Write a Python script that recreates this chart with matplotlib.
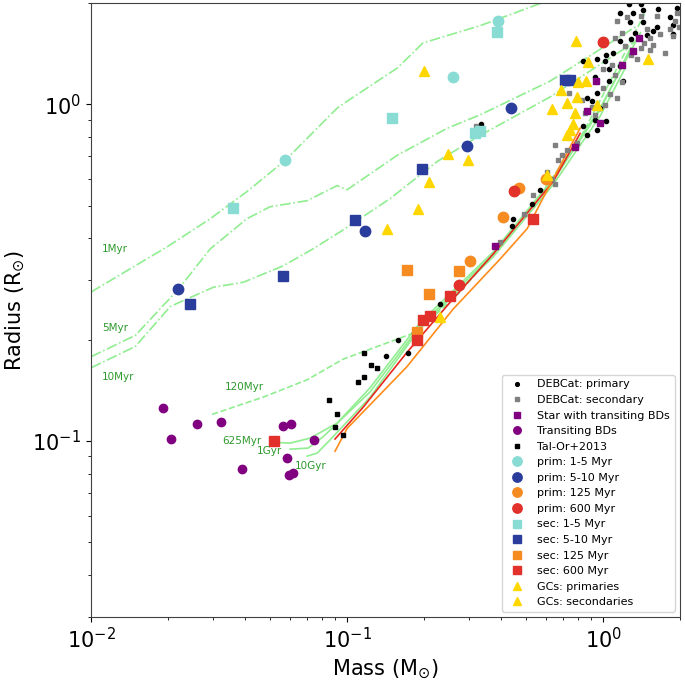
import matplotlib
matplotlib.use("Agg")
import matplotlib.pyplot as plt

# isochrones (mass [Msun], radius [Rsun])
iso_1myr_m = [0.01, 0.0198, 0.0292, 0.0406, 0.0573, 0.0914, 0.1, 0.157, 0.198, 0.331, 0.61]
iso_1myr_r = [0.277, 0.377, 0.457, 0.550, 0.681, 0.973, 1.02, 1.28, 1.52, 1.71, 2.03]
iso_5myr_m = [0.01, 0.0149, 0.0219, 0.0292, 0.0406, 0.050, 0.0698, 0.0914, 0.1, 0.157, 0.246, 0.331, 0.62, 1.36]
iso_5myr_r = [0.178, 0.206, 0.282, 0.372, 0.457, 0.496, 0.517, 0.573, 0.557, 0.705, 0.848, 0.93, 1.17, 1.71]
iso_10myr_m = [0.01, 0.0149, 0.0204, 0.030, 0.0393, 0.0562, 0.0736, 0.094, 0.147, 0.225, 0.331, 0.62, 1.40]
iso_10myr_r = [0.165, 0.191, 0.251, 0.286, 0.296, 0.331, 0.372, 0.418, 0.524, 0.676, 0.808, 1.05, 1.57]
iso_120myr_m = [0.0297, 0.047, 0.0698, 0.0964, 0.1875, 0.276, 0.396, 0.568, 0.813, 1.11, 1.46]
iso_120myr_r = [0.120, 0.135, 0.152, 0.175, 0.211, 0.277, 0.379, 0.538, 0.792, 1.24, 1.87]
iso_625myr_m = [0.050, 0.0599, 0.0716, 0.0914, 0.123, 0.193, 0.372, 0.638, 0.973, 1.40]
iso_625myr_r = [0.0993, 0.0986, 0.102, 0.113, 0.144, 0.225, 0.364, 0.601, 0.973, 1.63]
iso_1gyr_m = [0.0599, 0.0705, 0.0806, 0.123, 0.193, 0.372, 0.638, 0.973, 1.28]
iso_1gyr_r = [0.0946, 0.0953, 0.103, 0.140, 0.220, 0.359, 0.593, 0.96, 1.47]
iso_10gyr_m = [0.0698, 0.0764, 0.086, 0.123, 0.193, 0.372, 0.638, 0.973, 1.22]
iso_10gyr_r = [0.0902, 0.0921, 0.101, 0.135, 0.217, 0.352, 0.577, 0.921, 1.28]
red_m = [0.0897, 0.1155, 0.171, 0.259, 0.372, 0.474, 0.638, 0.813]
red_r = [0.1014, 0.126, 0.183, 0.264, 0.359, 0.448, 0.589, 0.819]
orange_m = [0.0897, 0.1, 0.171, 0.259, 0.396, 0.505, 0.638, 0.813]
orange_r = [0.0933, 0.109, 0.166, 0.246, 0.347, 0.427, 0.601, 0.848]

iso_names = ["1Myr", "5Myr", "10Myr", "120Myr", "625Myr", "1Gyr", "10Gyr"]
iso_label_m = [0.011, 0.011, 0.011, 0.0333, 0.0325, 0.0445, 0.0627]
iso_label_r = [0.372, 0.217, 0.155, 0.145, 0.100, 0.0934, 0.0842]

# DEBCat
deb_p_m = [1.26, 1.41, 1.16, 1.31, 1.64, 1.94, 1.27, 1.43, 1.62, 1.88, 1.57, 1.33, 1.48,
           1.88, 1.29, 1.16, 1.09, 1.03, 1.02, 1.05, 0.944, 0.836, 1.16, 1.20, 0.931, 1.05,
           0.944, 0.863, 0.903, 0.973, 1.03, 0.931, 0.863, 0.944, 0.836, 0.333, 1.43, 1.83,
           0.44, 0.445, 0.568, 0.526, 0.231, 0.182, 0.158, 0.173, 0.142]
deb_p_r = [1.98, 1.98, 1.86, 1.87, 1.91, 1.93, 1.75, 1.75, 1.69, 1.72, 1.65, 1.63, 1.60,
           1.62, 1.56, 1.54, 1.42, 1.40, 1.34, 1.27, 1.36, 1.34, 1.30, 1.17, 1.20, 1.17,
           1.08, 1.04, 1.02, 0.973, 0.889, 0.896, 0.808, 0.836, 0.860, 0.871, 1.90, 1.81,
           0.436, 0.457, 0.555, 0.506, 0.255, 0.209, 0.200, 0.183, 0.179]
deb_s_m = [1.13, 1.24, 1.40, 1.18, 1.48, 1.67, 1.83, 1.91, 1.97, 1.11, 1.22, 1.44, 1.57,
           1.75, 1.29, 1.35, 1.08, 1.00, 1.11, 1.18, 1.00, 1.06, 1.13, 0.903, 1.02, 0.851,
           0.931, 0.733, 0.826, 0.789, 0.721, 0.649, 0.690, 0.669, 0.63, 0.602, 1.40, 1.53,
           1.53, 1.88, 1.94, 1.62, 0.489, 0.531, 0.396, 0.649, 0.319]
deb_s_r = [1.77, 1.81, 1.83, 1.63, 1.67, 1.61, 1.67, 1.77, 1.69, 1.57, 1.49, 1.52, 1.50,
           1.42, 1.40, 1.36, 1.31, 1.27, 1.22, 1.16, 1.12, 1.07, 1.04, 0.984, 0.995, 0.940,
           0.929, 1.08, 1.03, 0.765, 0.731, 0.757, 0.706, 0.682, 0.601, 0.630, 1.47, 1.57,
           1.45, 1.59, 1.87, 1.83, 0.473, 0.539, 0.389, 0.581, 0.86]

# transiting brown dwarfs and their hosts
host_m = [1.38, 1.31, 1.19, 0.94, 0.866, 0.973, 0.778, 0.378]
host_r = [1.57, 1.44, 1.31, 1.17, 0.953, 0.878, 0.744, 0.379]
bd_m = [0.0191, 0.0205, 0.0259, 0.0322, 0.0389, 0.0562, 0.0604, 0.0583, 0.0594, 0.0615, 0.0743]
bd_r = [0.125, 0.1014, 0.1124, 0.114, 0.0825, 0.111, 0.1124, 0.089, 0.0792, 0.0802, 0.1007]

talor_m = [0.0846, 0.0917, 0.0898, 0.0962, 0.116, 0.110, 0.116, 0.124, 0.131]
talor_r = [0.132, 0.120, 0.110, 0.104, 0.155, 0.150, 0.182, 0.168, 0.165]

# young clusters: primaries
p1_m = [0.0573, 0.259, 0.389]
p1_r = [0.681, 1.20, 1.76]
p5_m = [0.0219, 0.1175, 0.294, 0.438]
p5_r = [0.282, 0.421, 0.749, 0.973]
p125_m = [0.302, 0.407, 0.47, 0.60]
p125_r = [0.342, 0.463, 0.565, 0.60]
p600_m = [0.449, 0.274, 1.0]
p600_r = [0.554, 0.290, 1.53]
# young clusters: secondaries
s1_m = [0.0359, 0.150, 0.316, 0.33, 0.385]
s1_r = [0.493, 0.908, 0.819, 0.835, 1.64]
s5_m = [0.0244, 0.0562, 0.1075, 0.196, 0.711, 0.743]
s5_r = [0.256, 0.309, 0.454, 0.644, 1.18, 1.18]
s125_m = [0.171, 0.274, 0.209, 0.1875]
s125_r = [0.321, 0.319, 0.273, 0.210]
s600_m = [0.533, 0.252, 0.198, 0.1875, 0.211, 0.0519]
s600_r = [0.457, 0.269, 0.228, 0.200, 0.235, 0.100]

# globular clusters
gcp_m = [0.785, 1.5, 0.873, 0.859, 0.798, 0.686, 0.791, 0.723, 0.948]
gcp_r = [1.54, 1.36, 1.33, 1.17, 1.16, 1.10, 1.05, 1.007, 0.993]
gcs_m = [0.2, 0.248, 0.297, 0.209, 0.189, 0.143, 0.231, 0.632, 0.778, 0.764, 0.743, 0.723, 0.604]
gcs_r = [1.25, 0.709, 0.681, 0.589, 0.49, 0.426, 0.234, 0.966, 0.94, 0.871, 0.836, 0.808, 0.618]

fig, ax = plt.subplots(figsize=(6.85, 6.82), dpi=100)
fig.subplots_adjust(left=0.133, right=0.993, top=0.996, bottom=0.095)

iso_col = "#90ee90"
ax.plot(iso_1myr_m, iso_1myr_r, "-.", color=iso_col, lw=1.2)
ax.plot(iso_5myr_m, iso_5myr_r, "-.", color=iso_col, lw=1.2)
ax.plot(iso_10myr_m, iso_10myr_r, "-.", color=iso_col, lw=1.2)
ax.plot(iso_120myr_m, iso_120myr_r, "--", color=iso_col, lw=1.2)
ax.plot(iso_625myr_m, iso_625myr_r, "-", color=iso_col, lw=1.2)
ax.plot(iso_1gyr_m, iso_1gyr_r, "-", color=iso_col, lw=1.2)
ax.plot(iso_10gyr_m, iso_10gyr_r, "-", color=iso_col, lw=1.2)
ax.plot(red_m, red_r, "-", color="#e8281e", lw=1.2)
ax.plot(orange_m, orange_r, "-", color="#ff8c1a", lw=1.2)

for name, m, r in zip(iso_names, iso_label_m, iso_label_r):
    ax.text(m, r, name, color="#2e9a2e", fontsize=7.5, va="center", ha="left")

ax.plot(deb_p_m, deb_p_r, "o", color="black", ms=3, ls="none", label="DEBCat: primary")
ax.plot(deb_s_m, deb_s_r, "s", color="gray", ms=3, ls="none", label="DEBCat: secondary")
ax.plot(host_m, host_r, "s", color="purple", ms=5, ls="none", label="Star with transiting BDs")
ax.plot(bd_m, bd_r, "o", color="purple", ms=6, ls="none", label="Transiting BDs")
ax.plot(talor_m, talor_r, "s", color="black", ms=3, ls="none", label="Tal-Or+2013")
ax.plot(p1_m, p1_r, "o", color="#88dcd4", ms=7.5, ls="none", label="prim: 1-5 Myr")
ax.plot(p5_m, p5_r, "o", color="#2b3d9c", ms=7.5, ls="none", label="prim: 5-10 Myr")
ax.plot(p125_m, p125_r, "o", color="#f68b22", ms=7.5, ls="none", label="prim: 125 Myr")
ax.plot(p600_m, p600_r, "o", color="#e2302a", ms=7.5, ls="none", label="prim: 600 Myr")
ax.plot(s1_m, s1_r, "s", color="#88dcd4", ms=7, ls="none", label="sec: 1-5 Myr")
ax.plot(s5_m, s5_r, "s", color="#2b3d9c", ms=7, ls="none", label="sec: 5-10 Myr")
ax.plot(s125_m, s125_r, "s", color="#f68b22", ms=7, ls="none", label="sec: 125 Myr")
ax.plot(s600_m, s600_r, "s", color="#e2302a", ms=7, ls="none", label="sec: 600 Myr")
ax.plot(gcp_m, gcp_r, "^", color="#ffd700", ms=6.5, ls="none", label="GCs: primaries")
ax.plot(gcs_m, gcs_r, "^", color="#ffd700", ms=6.5, ls="none", label="GCs: secondaries")

ax.set_xscale("log")
ax.set_yscale("log")
ax.set_xlim(0.01, 2.0)
ax.set_ylim(0.03, 2.0)
ax.set_xlabel(r"Mass (M$_{\odot}$)", fontsize=15)
ax.set_ylabel(r"Radius (R$_{\odot}$)", fontsize=15)
ax.tick_params(axis="both", which="major", labelsize=15)
for sp in ax.spines.values():
    sp.set_color("#404040")

ax.legend(loc="lower right", fontsize=8, labelspacing=0.5, markerscale=0.9)

fig.savefig("out.png", dpi=100)
